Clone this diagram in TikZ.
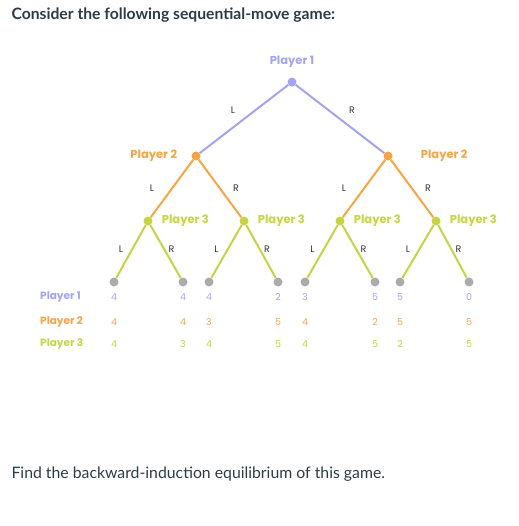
\documentclass[tikz,border=0pt]{standalone}
\usepackage{fontspec}
\setmainfont{Lato}
\newfontfamily\gamefont{Poppins}[BoldFont={Poppins Bold}]
\usetikzlibrary{positioning}
\definecolor{pone}{HTML}{A3A3F3}
\definecolor{ptwo}{HTML}{F7A445}
\definecolor{pthree}{HTML}{C5D443}
\definecolor{leafgray}{HTML}{ABABAB}
\definecolor{movecol}{HTML}{333333}
\definecolor{textcol}{HTML}{2D3B45}

\begin{document}
\begin{tikzpicture}[
            x=1pt, y=-1pt,
            dot/.style={circle, inner sep=0pt, minimum size=9pt},
            who/.style={font=\gamefont\bfseries\fontsize{11.5}{13}\selectfont, inner sep=0pt},
            rowlab/.style={font=\gamefont\bfseries\fontsize{10.5}{12}\selectfont, inner sep=0pt, anchor=west},
            move/.style={font=\gamefont\fontsize{9.5}{11}\selectfont, text=movecol, inner sep=0pt},
            branch/.style={line width=2pt},
            pay/.style={font=\gamefont\fontsize{9.5}{11}\selectfont, inner sep=0pt}
        ]
            \useasboundingbox (0,0) rectangle (518,526);
            \node[anchor=west, font=\bfseries\fontsize{15.7}{18}\selectfont, text=textcol] (title) at (8,15) {Consider the following sequential-move game:};

            % decision nodes
            \node[dot, fill=pone] (p1) at (292,82) {};
            \node[dot, fill=ptwo] (p2l) at (196,156) {};
            \node[dot, fill=ptwo] (p2r) at (388,156) {};
            \node[dot, fill=pthree] (p3a) at (148,221) {};
            \node[dot, fill=pthree] (p3b) at (244,221) {};
            \node[dot, fill=pthree] (p3c) at (340,221) {};
            \node[dot, fill=pthree] (p3d) at (436,221) {};
            \foreach \x [count=\i] in {114,183,209,278,305,375,400,469}
                \node[dot, fill=leafgray] (t\i) at (\x,282) {};

            \node[who, text=pone, above=10pt of p1] (p1lab) {Player 1};
            \node[who, text=ptwo, left=14pt of p2l] (p2llab) {Player 2};
            \node[who, text=ptwo, right=28pt of p2r] (p2rlab) {Player 2};
            \foreach \n in {p3a,p3b,p3c,p3d}
                \node[who, text=pthree, right=9pt of \n] (\n lab) {Player 3};

            % branches
            \draw[branch, pone] (p1) -- node[move, xshift=-11pt, yshift=9pt] {L} (p2l);
            \draw[branch, pone] (p1) -- node[move, xshift=12pt, yshift=9pt] {R} (p2r);
            \foreach \n/\a/\b in {p2l/p3a/p3b, p2r/p3c/p3d} {
                \draw[branch, ptwo] (\n) -- node[move, xshift=-20pt] {L} (\a);
                \draw[branch, ptwo] (\n) -- node[move, xshift=16pt] {R} (\b);
            }
            \foreach \n/\a/\b in {p3a/t1/t2, p3b/t3/t4, p3c/t5/t6, p3d/t7/t8} {
                \draw[branch, pthree] (\n) -- node[move, xshift=-10pt, yshift=2pt] {L} (\a);
                \draw[branch, pthree] (\n) -- node[move, xshift=6pt, yshift=2pt] {R} (\b);
            }

            % payoffs
            \node[rowlab, text=pone] (row1) at (40,297) {Player 1};
            \node[rowlab, text=ptwo] (row2) at (40,322) {Player 2};
            \node[rowlab, text=pthree] (row3) at (40,344) {Player 3};
            \foreach \a/\b/\c [count=\i] in {4/4/4, 4/4/3, 4/3/4, 2/5/5, 3/4/4, 5/2/5, 5/5/2, 0/5/5} {
                \node[pay, text=pone] at (t\i |- row1) {\a};
                \node[pay, text=ptwo] at (t\i |- row2) {\b};
                \node[pay, text=pthree] at (t\i |- row3) {\c};
            }

            \node[anchor=west, font=\fontsize{15.8}{19}\selectfont, text=textcol] (question) at (8,474) {Find the backward-induction equilibrium of this game.};
        \end{tikzpicture}
\end{document}
